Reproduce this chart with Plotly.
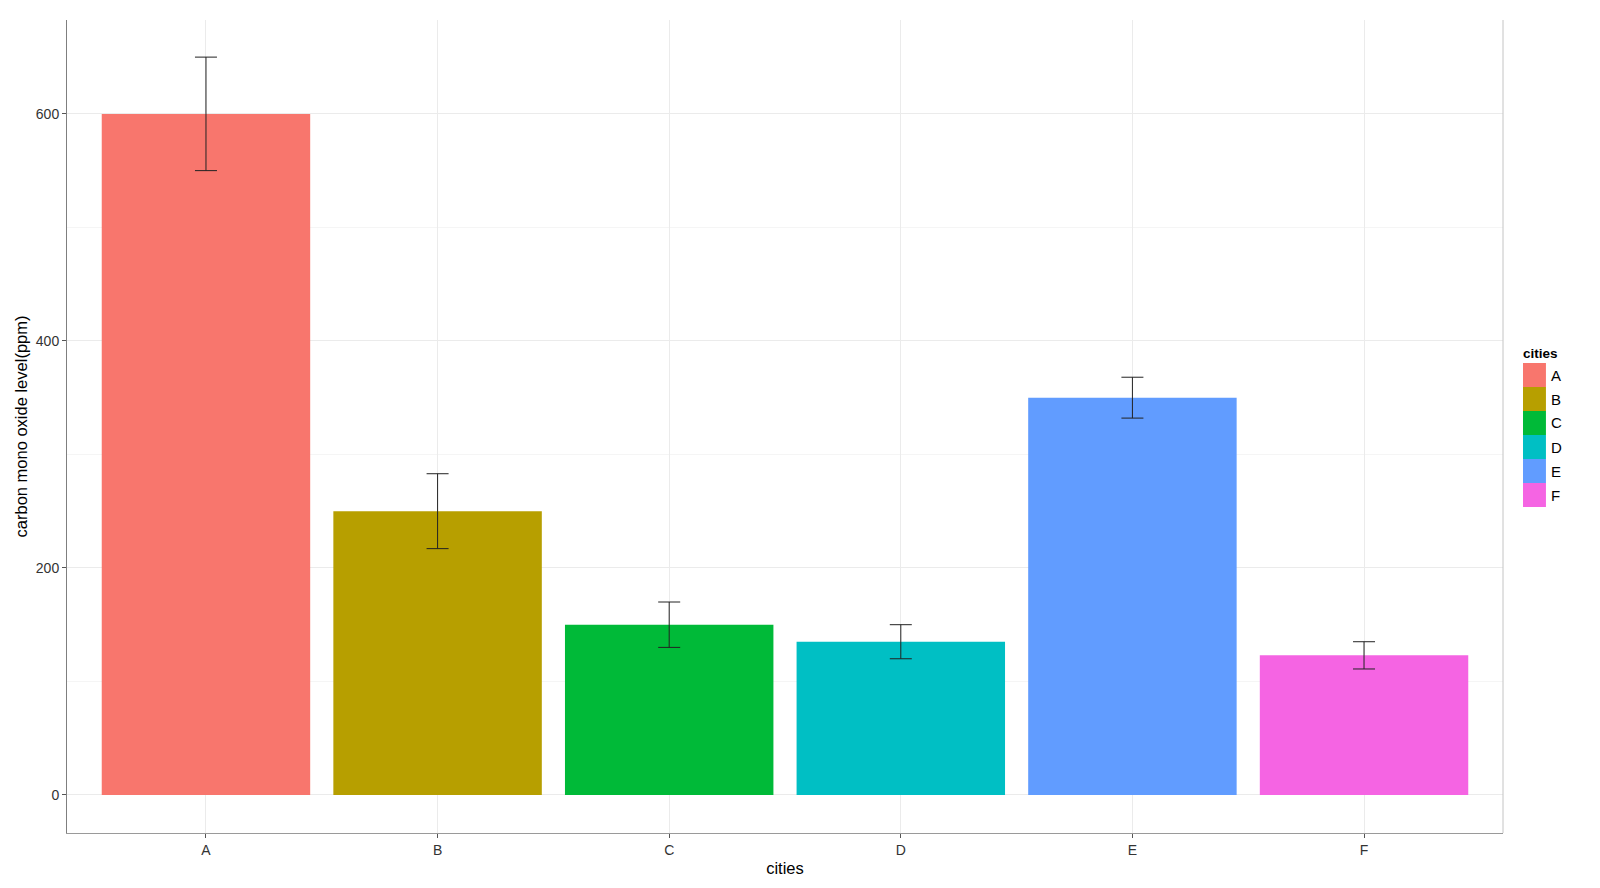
import plotly.graph_objects as go

cities = ["A", "B", "C", "D", "E", "F"]
co_level = [600, 250, 150, 135, 350, 123]
co_error = [50, 33, 20, 15, 18, 12]
colors = ["#F8766D", "#B79F00", "#00BA38", "#00BFC4", "#619CFF", "#F564E3"]
y_ticks = [0, 200, 400, 600]

# page body has an 8px margin, so the figure starts at (8, 8)
OFF = 8
W, H = 1600 - OFF, 888 - OFF
ML, MR, MT, MB = 65 - OFF, 97, 20 - OFF, 55

fig = go.Figure()
for c, v, e, col in zip(cities, co_level, co_error, colors):
    fig.add_trace(go.Bar(
        x=[c], y=[v], name=c, marker=dict(color=col, line=dict(width=0)),
        width=0.9,
        error_y=dict(type="data", array=[e], visible=True, color="#222222",
                     thickness=1, width=11),
        showlegend=False,
    ))

fig.update_layout(
    width=W, height=H,
    margin=dict(l=ML, r=MR, t=MT, b=MB),
    paper_bgcolor="white", plot_bgcolor="white",
    font=dict(family="Liberation Sans, Arial, sans-serif", color="#222222"),
    bargap=0.1,
    xaxis=dict(
        title=dict(text="cities", font=dict(size=16.5, color="#000000"), standoff=5),
        categoryorder="array", categoryarray=cities,
        range=[-0.6, 5.6],
        showgrid=True, gridcolor="#ebebeb", gridwidth=1,
        ticks="outside", ticklen=4, tickcolor="#555555",
        tickfont=dict(size=14, color="#333333"),
        showline=True, linecolor="#9a9a9a", linewidth=1,
        zeroline=False, fixedrange=True,
    ),
    yaxis=dict(
        title=dict(text="carbon mono oxide level(ppm)", font=dict(size=16.5, color="#000000"), standoff=4),
        range=[-33.5, 682.7],
        tickvals=y_ticks, ticktext=[str(t) for t in y_ticks],
        showgrid=True, gridcolor="#ebebeb", gridwidth=1,
        minor=dict(dtick=100, tick0=0, showgrid=True, gridcolor="#f5f5f5", gridwidth=1),
        ticks="outside", ticklen=4, tickcolor="#555555",
        tickfont=dict(size=14, color="#333333"),
        showline=True, linecolor="#7f7f7f", linewidth=1,
        zeroline=False, fixedrange=True,
    ),
)

# right panel border (lighter)
fig.add_shape(type="line", xref="paper", yref="paper", x0=1, x1=1, y0=0, y1=1,
              line=dict(color="#c4c4c4", width=1))

# custom legend (ggplot-style tall keys); positions in page pixels
pw = W - ML - MR
ph = H - MT - MB
def px_to_paper_x(px):
    return (px - OFF - ML) / pw
def px_to_paper_y(py):
    return 1 - (py - OFF - MT) / ph

key_x0, key_x1 = 1523, 1546
key_y0, key_h = 363, 24
fig.add_annotation(xref="paper", yref="paper", x=px_to_paper_x(1521), y=px_to_paper_y(353),
                   text="<b>cities</b>", showarrow=False, xanchor="left", yanchor="middle",
                   font=dict(size=13.5, color="#000000"))
for i, (c, col) in enumerate(zip(cities, colors)):
    y0 = key_y0 + i * key_h
    fig.add_shape(type="rect", xref="paper", yref="paper",
                  x0=px_to_paper_x(key_x0), x1=px_to_paper_x(key_x1),
                  y0=px_to_paper_y(y0), y1=px_to_paper_y(y0 + key_h),
                  fillcolor=col, line=dict(width=0), layer="above")
    fig.add_annotation(xref="paper", yref="paper", x=px_to_paper_x(1549),
                       y=px_to_paper_y(y0 + key_h / 2), text=c, showarrow=False,
                       xanchor="left", yanchor="middle",
                       font=dict(size=15, color="#000000"))

fig.write_html("out.html")
